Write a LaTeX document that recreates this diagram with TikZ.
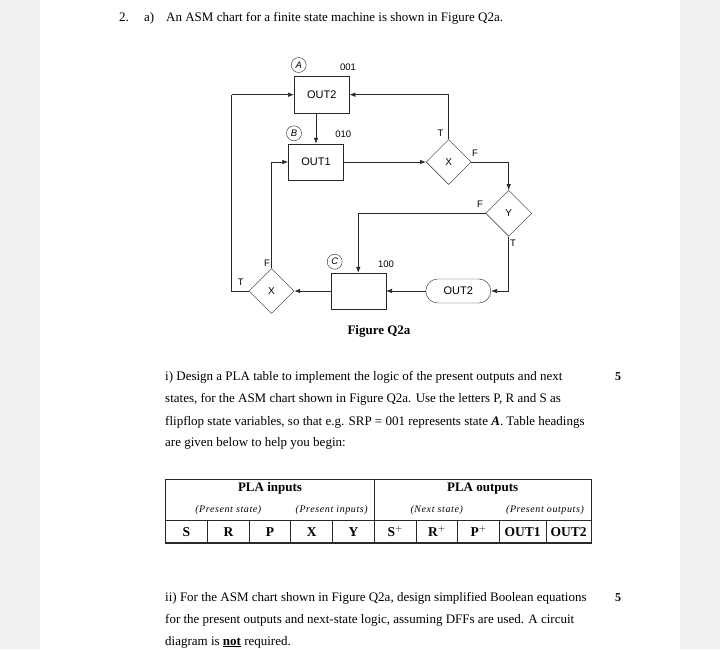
\documentclass[tikz,border=0pt]{standalone}
\usepackage{fontspec}
\setmainfont{Liberation Serif}
\setsansfont{Liberation Sans}
\usetikzlibrary{arrows.meta,shapes.geometric,positioning}
\definecolor{pagegray}{RGB}{239,240,242}
\definecolor{ink}{RGB}{40,40,40}

\begin{document}
\begin{tikzpicture} [x = 1pt, y = -1pt,
	stbox/.style = {draw = ink, minimum width = 55pt, minimum height = 36pt, inner sep = 0pt, font = \sffamily\fontsize{11}{13}\selectfont},
	decbox/.style = {draw = ink, diamond, aspect = 1, minimum size = 45pt, inner sep = 0pt, font = \sffamily\fontsize{10}{12}\selectfont},
	condbox/.style = {draw = ink, rounded corners = 12pt, minimum width = 65pt, minimum height = 24pt, inner sep = 0pt, font = \sffamily\fontsize{11}{13}\selectfont},
	tag/.style = {draw = ink, circle, minimum size = 15pt, inner sep = 0pt, font = \sffamily\itshape\fontsize{9.5}{11}\selectfont},
	code/.style = {inner sep = 0pt, font = \sffamily\fontsize{9.5}{11}\selectfont},
	flow/.style = {ink, line width = 0.7pt, -{Latex[length = 6pt, width = 4.5pt]}},
	wire/.style = {ink, line width = 0.7pt},
	body/.style = {anchor = base west, inner sep = 0pt, font = \fontsize{13}{15}\selectfont},
	cell/.style = {anchor = base, inner sep = 0pt, font = \bfseries\fontsize{13.5}{15}\selectfont},
	sub/.style = {anchor = base, inner sep = 0pt, font = \itshape\fontsize{10}{12}\selectfont\addfontfeatures{LetterSpace = 6}}]

	\fill [pagegray] (0,0) rectangle (720,649);
	\fill [white] (40,0) rectangle (680,649);
	\useasboundingbox (0,0) rectangle (720,649);

	% question heading
	\node [body] (qnum) at (119,21) {2.};
	\node [body] (qpart) at (144,21) {a)};
	\node [body] (qtext) at (166,21) {An ASM chart for a finite state machine is shown in Figure Q2a.};

	% ASM chart
	\node [stbox, minimum height = 37pt] (stA) at (321.7,94.7) {OUT2};
	\node [stbox] (stB) at (316,162) {OUT1};
	\node [stbox] (stC) at (358.3,291) {};
	\node [decbox] (decX1) at (448.7,162) {X};
	\node [decbox, minimum size = 46pt] (decY) at (508.7,213.3) {Y};
	\node [decbox] (decX2) at (271.5,291) {X};
	\node [condbox] (cout) at (458.3,291) {OUT2};
	\node [tag] (tagA) at (298.7,65) {A};
	\node [tag] (tagB) at (294,133.3) {B};
	\node [tag] (tagC) at (334.7,261.7) {C};
	\node [code] (codeA) at (348,67.5) {001};
	\node [code] (codeB) at (343.3,134.3) {010};
	\node [code] (codeC) at (386,264) {100};
	\node [code, above left = 2.5pt and 5pt] (t1) at (decX1.north) {T};
	\node [code, above right = 5pt and 0.5pt] (f1) at (decX1.east) {F};
	\node [code, above left = 6pt and 2.4pt] (f2) at (decY.west) {F};
	\node [code, below right = 3.4pt and 1.3pt] (t2) at (decY.south) {T};
	\node [code, above left = 1.6pt and 1.5pt] (f3) at (decX2.north) {F};
	\node [code, above left = 5pt and 5pt] (t3) at (decX2.west) {T};
	\coordinate (lft) at (231.7,94.7);

	\draw [flow] (stB.north |- stA.south) -- (stB.north);
	\draw [flow] (stB.east) -- (decX1.west);
	\draw [flow] (decX1.north) |- (stA.east);
	\draw [flow] (decX1.east) -| (decY.north);
	\draw [flow] (decY.west) -| (stC.north);
	\draw [flow] (decY.south) |- (cout.east);
	\draw [flow] (cout.west) -- (stC.east);
	\draw [flow] (stC.west) -- (decX2.east);
	\draw [wire] (decX2.west) -| (lft);
	\draw [flow] (lft) -- (stA.west);
	\draw [flow] (decX2.north) |- (stB.west);

	\node [anchor = base, inner sep = 0pt, font = \bfseries\fontsize{13}{15}\selectfont] (fig) at (379,334) {Figure Q2a};

	% part i
	\node [body] (pi1) at (165,380) {i) Design a PLA table to implement the logic of the present outputs and next};
	\node [body] (pi2) at (165,402) {states, for the ASM chart shown in Figure Q2a. Use the letters P, R and S as};
	\node [body] (pi3) at (165,425) {flipflop state variables, so that e.g. SRP = 001 represents state \textbf{\textit{A}}. Table headings};
	\node [body] (pi4) at (165,446) {are given below to help you begin:};
	\node [cell, font = \bfseries\fontsize{12}{14}\selectfont] (mk1) at (618,380) {5};

	% PLA table
	\draw [ink, line width = 0.8pt] (165,479) rectangle (591,543);
	\draw [ink, line width = 1.5pt] (165,543) -- (591,543);
	\draw [ink, line width = 0.8pt] (165,520.7) -- (591,520.7);
	\draw [ink, line width = 0.8pt] (374.3,479) -- (374.3,543);
	\foreach \cx in {207.7, 249.3, 290.7, 332.7, 416, 457.7, 499.3, 546}
		\draw [ink, line width = 0.8pt] (\cx,520.7) -- (\cx,543);
	\node [cell, font = \bfseries\fontsize{13}{15}\selectfont] (hin) at (270,491.5) {PLA inputs};
	\node [cell, font = \bfseries\fontsize{13}{15}\selectfont] (hout) at (482.7,491.5) {PLA outputs};
	\node [sub] (sps) at (228.3,512.5) {(Present state)};
	\node [sub] (spi) at (331.7,512.5) {(Present inputs)};
	\node [sub] (sns) at (436.7,512.5) {(Next state)};
	\node [sub] (spo) at (545,512.5) {(Present outputs)};
	\foreach \lbl/\cx [count = \i] in {S/186.3, R/228.5, P/270, X/311.7, Y/353.5, S$^{+}$/395.2, R$^{+}$/436.8, P$^{+}$/478.5, OUT1/522.7, OUT2/568.5}
		\node [cell] (col\i) at (\cx,536.5) {\lbl};

	% part ii
	\node [body] (pj1) at (165,601) {ii) For the ASM chart shown in Figure Q2a, design simplified Boolean equations};
	\node [body] (pj2) at (165,623) {for the present outputs and next-state logic, assuming DFFs are used. A circuit};
	\node [body] (pj3) at (165,645) {diagram is \underline{\textbf{not}} required.};
	\node [cell, font = \bfseries\fontsize{12}{14}\selectfont] (mk2) at (618,601) {5};
\end{tikzpicture}
\end{document}
